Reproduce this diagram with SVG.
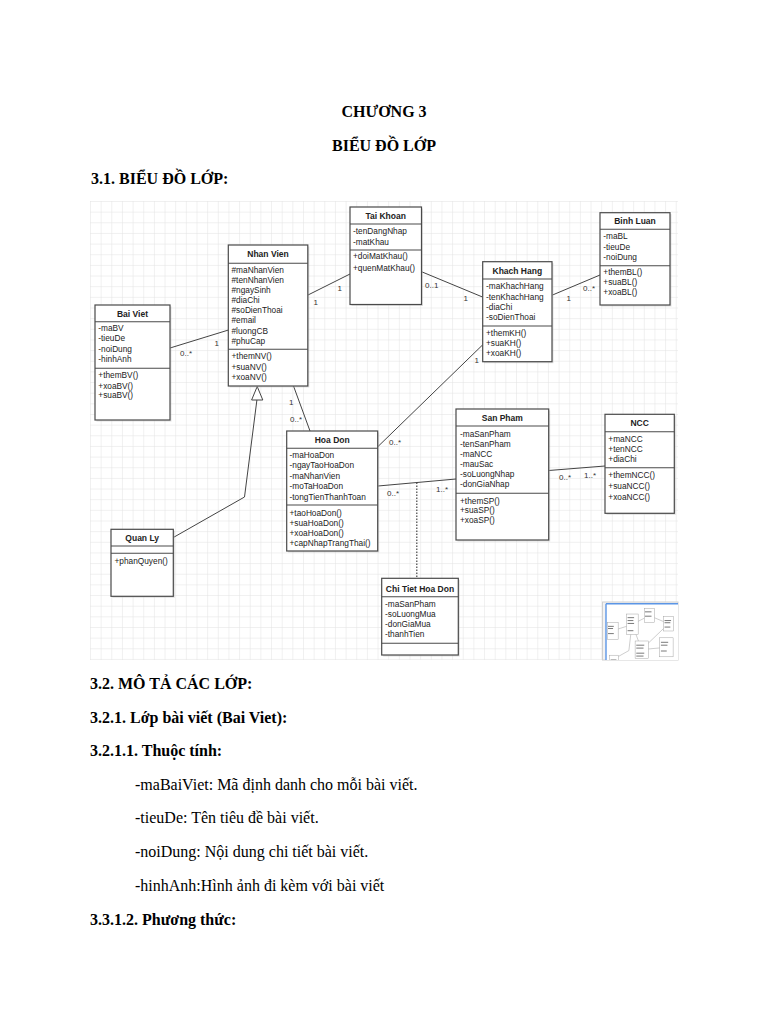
<svg xmlns="http://www.w3.org/2000/svg" width="768" height="1024" viewBox="0 0 768 1024">
<defs>
<pattern id="grid" x="90" y="201" width="10.65" height="10.65" patternUnits="userSpaceOnUse">
<path d="M 10.65 0 L 0 0 0 10.65" fill="none" stroke="#e2e2e2" stroke-width="1"/>
</pattern>
<clipPath id="thumbClip"><rect x="606" y="604" width="72" height="56"/></clipPath>
<style>
.h{font-family:"Liberation Serif","Times New Roman",serif;font-size:16px;font-weight:bold;fill:#000}
.b{font-family:"Liberation Serif","Times New Roman",serif;font-size:16px;fill:#000}
.box{fill:#fff;stroke:#4a4a4a;stroke-width:1.2}
.shadow{fill:#bbb;opacity:0.45}
.div{stroke:#4a4a4a;stroke-width:1.1}
.t{font-family:"Liberation Sans",Arial,sans-serif;font-size:8.3px;fill:#222}
.n{font-family:"Liberation Sans",Arial,sans-serif;font-size:8.5px;font-weight:bold;fill:#222;text-anchor:middle}
.lbl{font-family:"Liberation Sans",Arial,sans-serif;font-size:8px;fill:#333}
.c{fill:none;stroke:#444;stroke-width:1}
.mini{fill:#fff;stroke:#999;stroke-width:3}
</style>
</defs>
<rect width="768" height="1024" fill="#fff"/>

<text class="h" x="384" y="116.5" text-anchor="middle">CHƯƠNG 3</text>
<text class="h" x="384" y="151" text-anchor="middle">BIỂU ĐỒ LỚP</text>
<text class="h" x="91" y="183.5">3.1. BIỂU ĐỒ LỚP:</text>

<rect x="90" y="201" width="588" height="459" fill="url(#grid)"/>

<g id="connectors">
<line class="c" x1="308" y1="295" x2="350" y2="274"/>
<line class="c" x1="421" y1="271.5" x2="482.5" y2="297"/>
<line class="c" x1="552.5" y1="295" x2="600" y2="275"/>
<line class="c" x1="170" y1="348" x2="228.5" y2="330"/>
<polyline class="c" points="173.3,537.5 244.5,497 256.9,400"/>
<polygon points="257.2,386.5 251.6,400 262.8,400" fill="#fff" stroke="#444" stroke-width="1"/>
<line class="c" x1="293.5" y1="386" x2="310" y2="431"/>
<line class="c" x1="378" y1="446.5" x2="482.5" y2="345"/>
<line class="c" x1="378" y1="486" x2="456" y2="479"/>
<line x1="416.8" y1="482.5" x2="416.8" y2="578.5" stroke="#444" stroke-width="1.2" stroke-dasharray="1.5,1.5"/>
<line class="c" x1="548.7" y1="470.5" x2="605" y2="466"/>
<text class="lbl" x="313.5" y="304.5">1</text>
<text class="lbl" x="337.5" y="291">1</text>
<text class="lbl" x="425" y="287.5">0..1</text>
<text class="lbl" x="463.5" y="301">1</text>
<text class="lbl" x="566.5" y="300.5">1</text>
<text class="lbl" x="583" y="291">0..*</text>
<text class="lbl" x="180" y="356">0..*</text>
<text class="lbl" x="214.5" y="345.5">1</text>
<text class="lbl" x="289" y="405">1</text>
<text class="lbl" x="290" y="422">0..*</text>
<text class="lbl" x="389" y="444.5">0..*</text>
<text class="lbl" x="474.5" y="363">1</text>
<text class="lbl" x="387" y="495.5">0..*</text>
<text class="lbl" x="436" y="492">1..*</text>
<text class="lbl" x="559" y="479.5">0..*</text>
<text class="lbl" x="584" y="478">1..*</text>
</g>

<g id="tai-khoan">
<rect class="shadow" x="351.5" y="208.5" width="71.5" height="97.5"/>
<rect class="box" x="350" y="207" width="71.5" height="97.5"/>
<line class="div" x1="350" y1="224" x2="421.5" y2="224"/>
<line class="div" x1="350" y1="250" x2="421.5" y2="250"/>
<text class="n" x="385.7" y="219">Tai Khoan</text>
<text class="t" x="353" y="233.7">-tenDangNhap</text>
<text class="t" x="353" y="244.7">-matKhau</text>
<text class="t" x="353" y="259">+doiMatKhau()</text>
<text class="t" x="353" y="270.5">+quenMatKhau()</text>
</g>

<g id="nhan-vien">
<rect class="shadow" x="229.8" y="246.5" width="79.5" height="141"/>
<rect class="box" x="228.3" y="245" width="79.5" height="141"/>
<line class="div" x1="228.3" y1="263.3" x2="307.8" y2="263.3"/>
<line class="div" x1="228.3" y1="349.3" x2="307.8" y2="349.3"/>
<text class="n" x="268" y="256.5">Nhan Vien</text>
<text class="t" x="231.5" y="273">#maNhanVien</text>
<text class="t" x="231.5" y="283">#tenNhanVien</text>
<text class="t" x="231.5" y="293">#ngaySinh</text>
<text class="t" x="231.5" y="303">#diaChi</text>
<text class="t" x="231.5" y="313.2">#soDienThoai</text>
<text class="t" x="231.5" y="323.4">#email</text>
<text class="t" x="231.5" y="333.6">#luongCB</text>
<text class="t" x="231.5" y="343.7">#phuCap</text>
<text class="t" x="231.5" y="359">+themNV()</text>
<text class="t" x="231.5" y="369.5">+suaNV()</text>
<text class="t" x="231.5" y="379.7">+xoaNV()</text>
</g>

<g id="bai-viet">
<rect class="shadow" x="96.5" y="306.5" width="75" height="115"/>
<rect class="box" x="95" y="305" width="75" height="115"/>
<line class="div" x1="95" y1="321.7" x2="170" y2="321.7"/>
<line class="div" x1="95" y1="368.3" x2="170" y2="368.3"/>
<text class="n" x="132.5" y="316.5">Bai Viet</text>
<text class="t" x="98.3" y="331">-maBV</text>
<text class="t" x="98.3" y="341">-tieuDe</text>
<text class="t" x="98.3" y="351.5">-noiDung</text>
<text class="t" x="98.3" y="361.7">-hinhAnh</text>
<text class="t" x="98.3" y="378">+themBV()</text>
<text class="t" x="98.3" y="388.5">+xoaBV()</text>
<text class="t" x="98.3" y="398">+suaBV()</text>
</g>

<g id="khach-hang">
<rect class="shadow" x="484.2" y="263.2" width="69.3" height="100"/>
<rect class="box" x="482.7" y="261.7" width="69.3" height="100"/>
<line class="div" x1="482.7" y1="279" x2="552" y2="279"/>
<line class="div" x1="482.7" y1="326" x2="552" y2="326"/>
<text class="n" x="517.3" y="274">Khach Hang</text>
<text class="t" x="486" y="289">-maKhachHang</text>
<text class="t" x="486" y="299.5">-tenKhachHang</text>
<text class="t" x="486" y="309.5">-diaChi</text>
<text class="t" x="486" y="319.5">-soDienThoai</text>
<text class="t" x="486" y="335.7">+themKH()</text>
<text class="t" x="486" y="345.7">+suaKH()</text>
<text class="t" x="486" y="355.7">+xoaKH()</text>
</g>

<g id="binh-luan">
<rect class="shadow" x="601.5" y="214.2" width="70" height="92.3"/>
<rect class="box" x="600" y="212.7" width="70" height="92.3"/>
<line class="div" x1="600" y1="229.3" x2="670" y2="229.3"/>
<line class="div" x1="600" y1="265.7" x2="670" y2="265.7"/>
<text class="n" x="635" y="224">Binh Luan</text>
<text class="t" x="603.3" y="239">-maBL</text>
<text class="t" x="603.3" y="249.5">-tieuDe</text>
<text class="t" x="603.3" y="259.5">-noiDung</text>
<text class="t" x="603.3" y="275">+themBL()</text>
<text class="t" x="603.3" y="285.2">+suaBL()</text>
<text class="t" x="603.3" y="295.2">+xoaBL()</text>
</g>

<g id="hoa-don">
<rect class="shadow" x="288.2" y="432.5" width="91" height="120"/>
<rect class="box" x="286.7" y="431" width="91" height="120"/>
<line class="div" x1="286.7" y1="448.3" x2="377.7" y2="448.3"/>
<line class="div" x1="286.7" y1="505" x2="377.7" y2="505"/>
<text class="n" x="332.2" y="443">Hoa Don</text>
<text class="t" x="289.5" y="457.5">-maHoaDon</text>
<text class="t" x="289.5" y="468">-ngayTaoHoaDon</text>
<text class="t" x="289.5" y="478.5">-maNhanVien</text>
<text class="t" x="289.5" y="489">-moTaHoaDon</text>
<text class="t" x="289.5" y="499.5">-tongTienThanhToan</text>
<text class="t" x="289.5" y="515.5">+taoHoaDon()</text>
<text class="t" x="289.5" y="525.8">+suaHoaDon()</text>
<text class="t" x="289.5" y="535.8">+xoaHoaDon()</text>
<text class="t" x="289.5" y="546.3">+capNhapTrangThai()</text>
</g>

<g id="san-pham">
<rect class="shadow" x="457.5" y="410.5" width="92.7" height="131"/>
<rect class="box" x="456" y="409" width="92.7" height="131"/>
<line class="div" x1="456" y1="426" x2="548.7" y2="426"/>
<line class="div" x1="456" y1="493.3" x2="548.7" y2="493.3"/>
<text class="n" x="502.3" y="420.5">San Pham</text>
<text class="t" x="460" y="436.5">-maSanPham</text>
<text class="t" x="460" y="446.5">-tenSanPham</text>
<text class="t" x="460" y="456.5">-maNCC</text>
<text class="t" x="460" y="466.5">-mauSac</text>
<text class="t" x="460" y="477">-soLuongNhap</text>
<text class="t" x="460" y="487.3">-donGiaNhap</text>
<text class="t" x="460" y="503.7">+themSP()</text>
<text class="t" x="460" y="513">+suaSP()</text>
<text class="t" x="460" y="523">+xoaSP()</text>
</g>

<g id="ncc">
<rect class="shadow" x="606.5" y="415.8" width="69.3" height="99"/>
<rect class="box" x="605" y="414.3" width="69.3" height="99"/>
<line class="div" x1="605" y1="431.7" x2="674.3" y2="431.7"/>
<line class="div" x1="605" y1="467.7" x2="674.3" y2="467.7"/>
<text class="n" x="639.7" y="426">NCC</text>
<text class="t" x="608.3" y="442">+maNCC</text>
<text class="t" x="608.3" y="451.5">+tenNCC</text>
<text class="t" x="608.3" y="462">+diaChi</text>
<text class="t" x="608.3" y="478">+themNCC()</text>
<text class="t" x="608.3" y="489">+suaNCC()</text>
<text class="t" x="608.3" y="499.5">+xoaNCC()</text>
</g>

<g id="quan-ly">
<rect class="shadow" x="112.5" y="530.8" width="62.3" height="67"/>
<rect class="box" x="111" y="529.3" width="62.3" height="67"/>
<line class="div" x1="111" y1="546" x2="173.3" y2="546"/>
<line class="div" x1="111" y1="553.3" x2="173.3" y2="553.3"/>
<text class="n" x="142.2" y="540.5">Quan Ly</text>
<text class="t" x="114.5" y="564">+phanQuyen()</text>
</g>

<g id="chi-tiet-hoa-don">
<rect class="shadow" x="383.2" y="579.8" width="76.6" height="76.7"/>
<rect class="box" x="381.7" y="578.3" width="76.6" height="76.7"/>
<line class="div" x1="381.7" y1="596.7" x2="458.3" y2="596.7"/>
<line class="div" x1="381.7" y1="643.3" x2="458.3" y2="643.3"/>
<text class="n" x="420" y="591.5">Chi Tiet Hoa Don</text>
<text class="t" x="385" y="606.5">-maSanPham</text>
<text class="t" x="385" y="616.5">-soLuongMua</text>
<text class="t" x="385" y="626.5">-donGiaMua</text>
<text class="t" x="385" y="636.5">-thanhTien</text>
</g>

<g id="thumbnail">
<rect x="602.5" y="602" width="75.5" height="58" fill="#f3f3f3" stroke="#cfcfcf" stroke-width="1"/>
<rect x="606" y="603.8" width="72" height="56.2" fill="#fff"/>
<g clip-path="url(#thumbClip)">
<g transform="translate(593.5,578.5) scale(0.145)">
<rect class="mini" x="95" y="305" width="75" height="115"/>
<rect class="mini" x="228" y="245" width="80" height="141"/>
<rect class="mini" x="350" y="207" width="71" height="97"/>
<rect class="mini" x="483" y="262" width="69" height="100"/>
<rect class="mini" x="600" y="213" width="70" height="92"/>
<rect class="mini" x="287" y="431" width="91" height="120"/>
<rect class="mini" x="456" y="409" width="93" height="131"/>
<rect class="mini" x="111" y="529" width="62" height="67"/>
<path d="M308 295L350 274M421 271L483 297M170 348L228 330M173 537L244 497L257 386M293 386L310 431M378 446L483 345M378 486L456 479" fill="none" stroke="#aaa" stroke-width="4"/>
<path d="M100 330h40M100 345h35M100 380h40M235 270h45M235 290h40M235 310h45M235 360h40M355 230h45M355 260h45M490 290h45M490 305h40M490 335h40M295 460h55M295 480h50M295 515h55M295 535h50M465 440h50M465 460h45M465 500h40M118 562h40" stroke="#666" stroke-width="6"/>
</g>
</g>
<line x1="606" y1="603.8" x2="606" y2="660" stroke="#5b95e6" stroke-width="1.4"/>
<line x1="606" y1="603.8" x2="678" y2="603.8" stroke="#5b95e6" stroke-width="1.4"/>
</g>

<text class="h" x="90" y="689">3.2. MÔ TẢ CÁC LỚP:</text>
<text class="h" x="90" y="723">3.2.1. Lớp bài viết (Bai Viet):</text>
<text class="h" x="90" y="756">3.2.1.1. Thuộc tính:</text>
<text class="b" x="135" y="790">-maBaiViet: Mã định danh cho mỗi bài viết.</text>
<text class="b" x="135" y="823">-tieuDe: Tên tiêu đề bài viết.</text>
<text class="b" x="135" y="857">-noiDung: Nội dung chi tiết bài viết.</text>
<text class="b" x="135" y="891">-hinhAnh:Hình ảnh đi kèm với bài viết</text>
<text class="h" x="90" y="925">3.3.1.2. Phương thức:</text>
</svg>
